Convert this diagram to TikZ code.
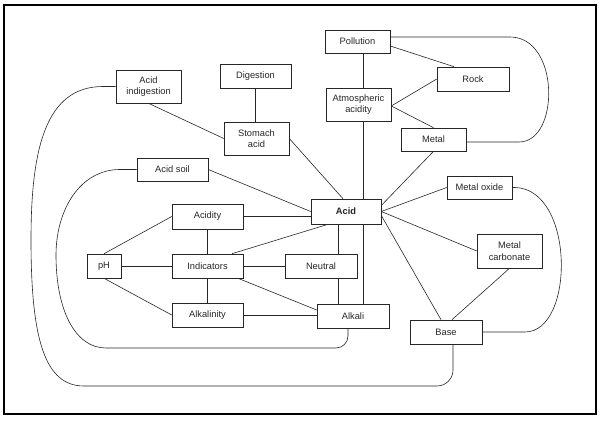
\documentclass[tikz,border=0pt]{standalone}
\usepackage{fontspec}
\setmainfont{Liberation Sans}
\begin{document}
\begin{tikzpicture}[x=1pt, y=-1pt, line width=0.6pt, color=black!85,
  box/.style 2 args={draw, rectangle, inner sep=0pt, align=center,
    minimum width=#1, minimum height=#2, font=\fontsize{9.3}{11.5}\selectfont}]
  \useasboundingbox (0,0) rectangle (600,422);
  \draw[line width=1.5pt, black] (4,5) rectangle (596,414);

  \node[box={65pt}{33pt}] (indig) at (148.5,86.5) {Acid\\indigestion};
  \node[box={71pt}{24pt}] (digest) at (255.5,76) {Digestion};
  \node[box={65pt}{33pt}] (stomach) at (256.5,138.5) {Stomach\\acid};
  \node[box={71pt}{23pt}] (soil) at (172.5,169.5) {Acid soil};
  \node[box={65pt}{23pt}] (poll) at (357.5,41.5) {Pollution};
  \node[box={72pt}{24pt}] (rock) at (473,79) {Rock};
  \node[box={65pt}{33pt}] (atmos) at (358.5,104.5) {Atmospheric\\acidity};
  \node[box={65pt}{23pt}] (metal) at (433.5,139.5) {Metal};
  \node[box={65pt}{23pt}] (oxide) at (479.5,187.5) {Metal oxide};
  \node[box={70pt}{25pt}] (acid) at (346,211.5) {\textbf{Acid}};
  \node[box={71pt}{25pt}] (acidity) at (207.5,216.5) {Acidity};
  \node[box={71pt}{24pt}] (ind) at (207.5,266) {Indicators};
  \node[box={72pt}{24pt}] (neutral) at (321,266) {Neutral};
  \node[box={34pt}{24pt}] (ph) at (104,266) {pH};
  \node[box={71pt}{24pt}] (alkty) at (207.5,315) {Alkalinity};
  \node[box={72pt}{24pt}] (alkali) at (353,316) {Alkali};
  \node[box={65pt}{34pt}] (carb) at (509.5,251) {Metal\\carbonate};
  \node[box={72pt}{24pt}] (base) at (446,332) {Base};

  \coordinate (vx) at (363,0);
  \coordinate (nx) at (338,0);

  \draw (indig.south) -- (stomach.west);
  \draw (digest.south) -- (digest.south |- stomach.north);
  \draw (stomach.east) -- ([xshift=-3pt]acid.north);
  \draw (soil.east) -- (acid.west);
  \draw (poll.south -| vx) -- (atmos.north -| vx);
  \draw (atmos.south -| vx) -- (acid.north -| vx);
  \draw (acid.south -| vx) -- (alkali.north -| vx);
  \draw (acid.south -| nx) -- (neutral.north -| nx);
  \draw (neutral.south -| nx) -- (alkali.north -| nx);
  \draw ([yshift=-4.5pt]poll.east) -- ([xshift=-19pt]rock.north);
  \draw ([yshift=-1.5pt]atmos.east) -- (rock.west);
  \draw ([yshift=-1.5pt]atmos.east) -- (metal.north);
  \draw (metal.south) -- ([yshift=6pt]acid.east);
  \draw (acid.east) -- (oxide.west);
  \draw (acid.east) -- (carb.west);
  \draw ([yshift=-4pt]acid.east) -- ([xshift=-5pt]base.north);
  \draw (carb.south) -- ([xshift=6pt]base.north);
  \draw (acidity.east) -- (acidity.east -| acid.west);
  \draw ([xshift=24.5pt]ind.north) -- ([xshift=-18pt]acid.south);
  \draw (acidity.south) -- (ind.north);
  \draw (ind.south) -- (alkty.north);
  \draw (ph.north) -- (acidity.west);
  \draw (ph.east) -- (ind.west);
  \draw (ph.south) -- (alkty.west);
  \draw (ind.east) -- (neutral.west);
  \draw ([xshift=30.5pt]ind.south) -- ([yshift=6pt]alkali.west);
  \draw (alkty.east) -- (alkty.east -| alkali.west);

  \draw ([yshift=4.5pt]poll.east) -- (510,37) .. controls (560,37) and (560,142) .. (519,142) -- ([yshift=-2.5pt]metal.east);
  \draw (oxide.east) -- (515,187.5) .. controls (575,189) and (575,332) .. (525,332) -- (base.east);
  \draw[rounded corners=12pt] ([xshift=-5pt]alkali.south) -- (348,348) -- (118,348) [sharp corners]
    .. controls (75,348) and (56,310) .. (56,255) .. controls (56,210) and (80,169.5) .. (120,169.5) -- (soil.west);
  \draw[rounded corners=16pt] ([xshift=7pt]base.south) -- (453,386) -- (100,386) [sharp corners]
    .. controls (45,386) and (31,340) .. (31,240) .. controls (31,150) and (45,86.5) .. (103,86.5) -- (indig.west);
\end{tikzpicture}
\end{document}
